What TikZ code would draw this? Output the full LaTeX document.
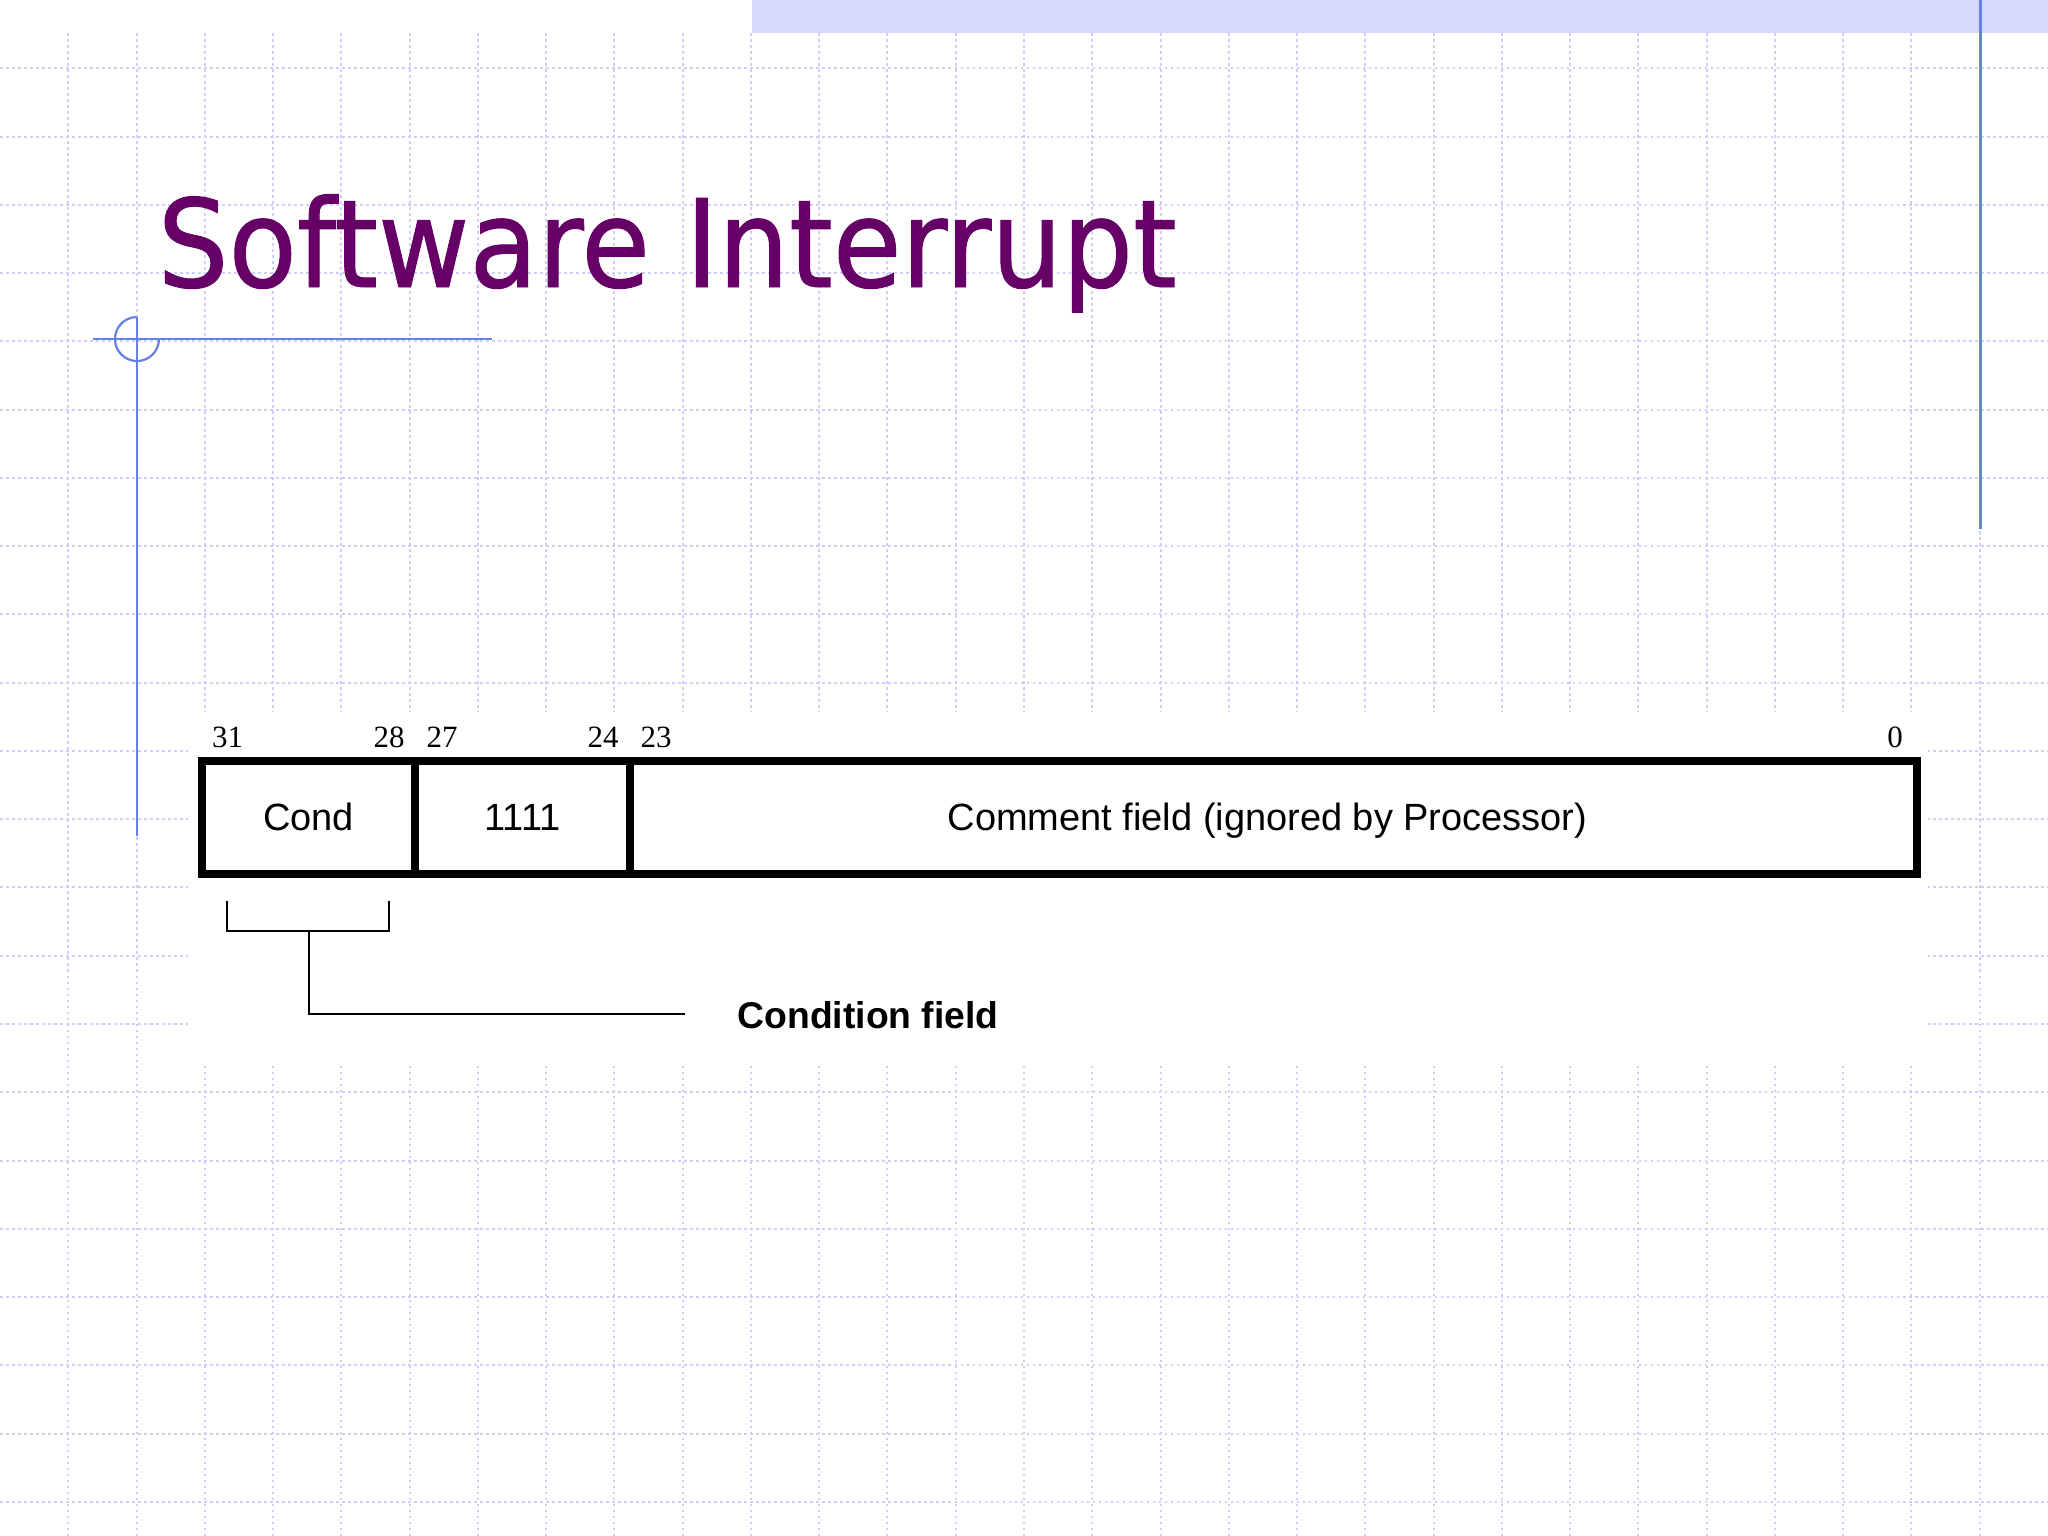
\documentclass[tikz,border=0pt]{standalone}
\usepackage{fontspec}
\setmainfont{Liberation Sans}
\newfontfamily\titlefont[FakeStretch=0.915,FakeBold=0.8]{DejaVu Sans}
\newfontfamily\bitfont{Liberation Serif}
\definecolor{gridc}{RGB}{204,208,248}
\definecolor{bandc}{RGB}{212,218,250}
\definecolor{bluln}{RGB}{100,130,230}
\definecolor{titlec}{RGB}{102,0,102}
\tikzset{
  gridln/.style={gridc, line width=0.02cm, dash pattern=on 0.025cm off 0.035cm},
  accent/.style={bluln, line width=0.022cm},
  field/.style={draw=black, line width=0.08cm, inner sep=0, minimum height=1.125cm,
    font=\fontsize{10.8}{13}\selectfont, text height=0.72em, text depth=0pt},
  bitnum/.style={anchor=base, inner sep=0, font=\bitfont\fontsize{8.8}{10}\selectfont},
  brk/.style={black, line width=0.025cm}
}
\begin{document}
\begin{tikzpicture}[x=0.01cm, y=-0.01cm]
\useasboundingbox (0,0) rectangle (2048,1536);
\fill[white] (0,0) rectangle (2048,1536);
% grid
\foreach \k in {1,...,29} \draw[gridln] ({\k*68.267},33) -- ({\k*68.267},1536);
\foreach \k in {1,...,22} \draw[gridln] (0,{\k*68.267}) -- (2048,{\k*68.267});
% white panel behind the diagram
\fill[white] (188,712) rectangle (1928,1062);
% top band
\fill[bandc] (752,0) rectangle (2048,33);
% right accent line
\draw[accent, line width=0.03cm] (1980,0) -- (1980,529);
% crosshair
\draw[accent] (93,339) -- (492,339);
\draw[accent] (137,317) -- (137,836);
\draw[accent] (137,317) arc[start angle=90, end angle=360, radius=0.22cm];
% title
\node[anchor=base west, inner sep=0, text=titlec, font=\titlefont\fontsize{34.7}{40}\selectfont] (title) at (157,287) {Software Interrupt};
% fields
\node[field, minimum width=2.13cm] (cond) at (308.5,817.75) {Cond};
\node[field, minimum width=2.15cm] (ones) at (522.5,817.75) {1111};
\node[field, minimum width=12.87cm] (comment) at (1273.5,817.75) {\hspace*{-0.12cm}Comment field (ignored by Processor)};
% bit numbers
\node[bitnum] (b31) at (227.5,747) {31};
\node[bitnum] (b28) at (389,747) {28};
\node[bitnum] (b27) at (442,747) {27};
\node[bitnum] (b24) at (603,747) {24};
\node[bitnum] (b23) at (656,747) {23};
\node[bitnum] (b0) at (1895,747) {0};
% bracket
\coordinate (bl) at (227,901);
\coordinate (br) at (389,901);
\coordinate (stem) at (309,931);
\coordinate (lineend) at (685,1014);
\node[anchor=base west, inner sep=0, font=\bfseries\fontsize{10.6}{12}\selectfont] (cf) at (737,1028) {Condition field};
\draw[brk] (bl) |- (stem) -| (br);
\draw[brk] (stem) |- (lineend);
\end{tikzpicture}
\end{document}
